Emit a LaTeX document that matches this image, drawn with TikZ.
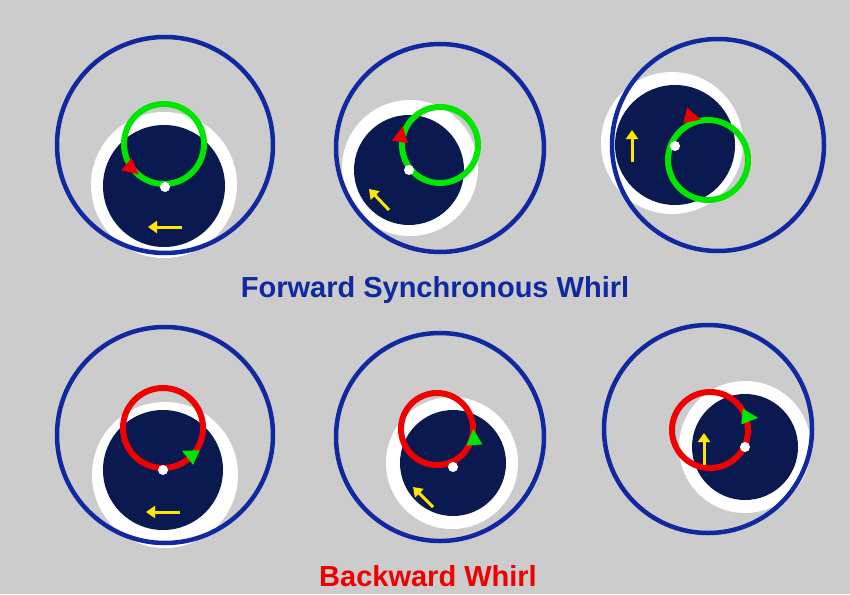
\documentclass[tikz,border=0pt]{standalone}
\usetikzlibrary{arrows.meta}
\usepackage{fontspec}
\setmainfont{Liberation Sans}
\definecolor{bg}{RGB}{204,204,204}
\definecolor{ringblue}{RGB}{16,40,160}
\definecolor{navy}{RGB}{10,26,80}
\definecolor{grn}{RGB}{0,230,0}
\definecolor{rd}{RGB}{240,0,0}
\definecolor{yl}{RGB}{255,230,0}
\tikzset{
 outer/.style={draw=ringblue,line width=4.5pt},
 bush/.style={fill=white},
 shaft/.style={fill=navy},
 orbit/.style={line width=6pt},
 cdot/.style={circle,fill=white,inner sep=0pt,minimum size=10pt},
 yarr/.style={draw=yl,line width=3pt,-{Triangle[length=9pt,width=12pt]}},
 title/.style={font=\fontsize{29}{34}\selectfont\bfseries}
}
\newcommand{\tri}[4]{\fill[#1,shift={(#2)},rotate=#3] (10,0) -- (-6,8) -- (-6,-8) -- cycle;}
\begin{document}
\begin{tikzpicture}[x=1pt,y=-1pt]
\fill[bg] (0,0) rectangle (850,594);
\useasboundingbox (0,0) rectangle (850,594);
% top-left
\fill[bush] (164,185) circle (73);
\fill[shaft] (164,186) circle (61);
\draw[outer] (165,145) circle (108);
\draw[orbit,grn] (164,144) circle (40);
\node[cdot] (d1) at (165,187) {};
\tri{rd}{131,168}{-40}{}
\coordinate (y1a) at (182,227); \coordinate (y1b) at (148,227);
\draw[yarr] (y1a) -- (y1b);
% top-middle
\fill[bush] (410,168) circle (68);
\fill[shaft] (409,170) circle (55);
\draw[outer] (440,148) circle (104);
\draw[orbit,grn] (440,145) circle (38);
\node[cdot] (d2) at (409,170) {};
\tri{rd}{401,136}{80}{}
\coordinate (y2a) at (389,210); \coordinate (y2b) at (369,189);
\draw[yarr] (y2a) -- (y2b);
% top-right
\fill[bush] (672,143) circle (71);
\fill[shaft] (675,145) circle (60);
\draw[outer] (718,145) circle (106);
\draw[orbit,grn] (708,160) circle (40);
\node[cdot] (d3) at (675,146) {};
\tri{rd}{691,117}{-15}{}
\coordinate (y3a) at (632,162); \coordinate (y3b) at (632,130);
\draw[yarr] (y3a) -- (y3b);
\node[title,text=ringblue] (f) at (435,290) {Forward Synchronous Whirl};
% bottom-left
\fill[bush] (165,475) circle (73);
\fill[shaft] (163,470) circle (60);
\draw[outer] (165,435) circle (108);
\draw[orbit,rd] (163,428) circle (40);
\node[cdot] (d4) at (163,470) {};
\tri{grn}{191,455}{155}{}
\coordinate (y4a) at (180,512); \coordinate (y4b) at (146,512);
\draw[yarr] (y4a) -- (y4b);
% bottom-middle
\fill[bush] (452,463) circle (66);
\fill[shaft] (453,463) circle (53);
\draw[outer] (440,437) circle (104);
\draw[orbit,rd] (437,429) circle (36);
\node[cdot] (d5) at (453,467) {};
\tri{grn}{474,439}{95}{}
\coordinate (y5a) at (433,507); \coordinate (y5b) at (413,487);
\draw[yarr] (y5a) -- (y5b);
% bottom-right
\fill[bush] (745,447) circle (66);
\fill[shaft] (745,447) circle (53);
\draw[outer] (708,429) circle (104);
\draw[orbit,rd] (710,430) circle (38);
\node[cdot] (d6) at (745,447) {};
\tri{grn}{748,417}{-5}{}
\coordinate (y6a) at (704,465); \coordinate (y6b) at (704,433);
\draw[yarr] (y6a) -- (y6b);
\node[title,text=rd] (b) at (428,576) {Backward Whirl};
\end{tikzpicture}
\end{document}
